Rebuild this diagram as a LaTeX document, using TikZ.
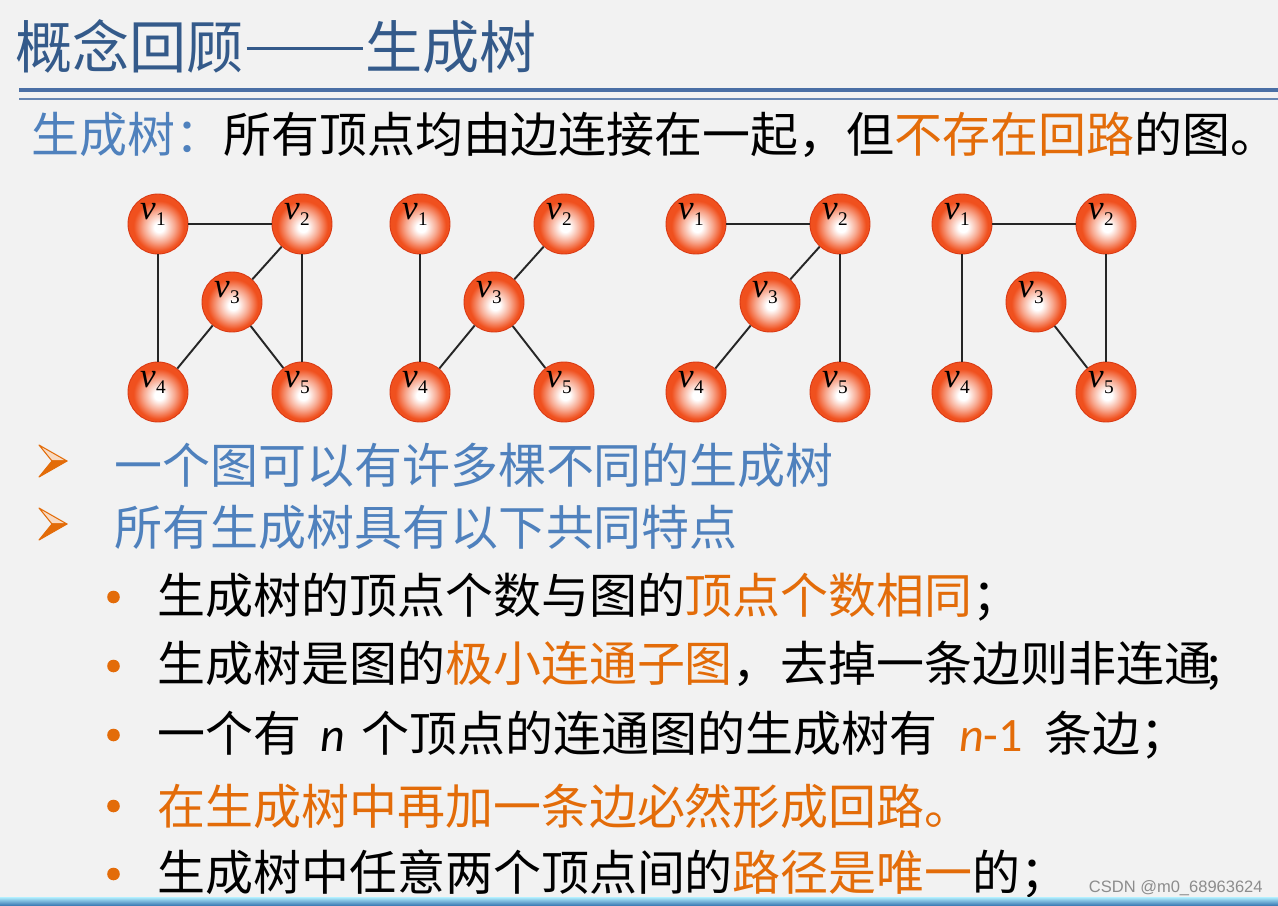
\documentclass[tikz,border=0pt]{standalone}
\usepackage{fontspec}
\newfontfamily\cjk{Noto Sans CJK SC}
\newfontfamily\lat{Carlito}
\newfontfamily\wm{Liberation Sans}
\newfontfamily\lser{Liberation Serif}
\definecolor{bgc}{HTML}{F2F2F2}
\definecolor{titleblue}{HTML}{345A8A}
\definecolor{blueB}{HTML}{4F81BD}
\definecolor{orangeA}{HTML}{E36C09}
\definecolor{nodeor}{HTML}{F0501E}
\definecolor{nodeedge}{HTML}{D93A14}
\definecolor{lineblue}{HTML}{4A6FA5}
\pgfdeclareradialshading{ballsh}{\pgfpoint{1bp}{-3bp}}{color(0bp)=(white); color(4bp)=(white); color(13bp)=(nodeor!50!white); color(21bp)=(nodeor); color(50bp)=(nodeor)}
\newcommand{\vlab}[1]{{\lser\fontsize{20}{20}\selectfont\itshape v}\kern0.03em\raisebox{-0.3em}{\lser\fontsize{11}{11}\selectfont #1}}
\tikzset{
  vtx/.style={circle, minimum size=1.2cm, inner sep=0pt, draw=nodeedge, line width=0.5pt, shading=ballsh},
  vl/.style={label={[xshift=-0.1cm, yshift=0.19cm, inner sep=0pt]center:\vlab{#1}}},
  edge/.style={line width=1.1pt, draw=black!85},
  txt/.style={anchor=west, inner sep=0pt, font=\cjk\fontsize{27.3}{30}\selectfont},
}
\begin{document}
\begin{tikzpicture}[x=0.02cm, y=-0.02cm]
\fill[bgc] (0,0) rectangle (1278,906);
\useasboundingbox (0,0) rectangle (1278,906);
% title
\node[anchor=west, inner sep=0pt, font=\cjk\fontsize{32.5}{34}\selectfont, text=titleblue] (title) at (15,47) {概念回顾\hspace{0.05em}\rule[0.34em]{66pt}{1.7pt}\hspace{0.05em}生成树};
\coordinate (la) at (19,90); \coordinate (lb) at (1278,90);
\coordinate (lc) at (19,99); \coordinate (ld) at (1278,99);
\draw[lineblue, line width=1.8pt] (la) -- (lb);
\draw[lineblue!85, line width=0.9pt] (lc) -- (ld);
% definition
\node[anchor=west, inner sep=0pt, font=\cjk\fontsize{27.3}{30}\selectfont] (def) at (31,135) {\textcolor{blueB}{生成树：}所有顶点均由边连接在一起，但\textcolor{orangeA}{不存在回路}的图。};
% graphs
\foreach \g/\ox in {1/0,2/262,3/538,4/804}{
  \node[vtx, vl=1] (g\g v1) at (158+\ox,224) {};
  \node[vtx, vl=2] (g\g v2) at (302+\ox,224) {};
  \node[vtx, vl=3] (g\g v3) at (232+\ox,302) {};
  \node[vtx, vl=4] (g\g v4) at (158+\ox,392) {};
  \node[vtx, vl=5] (g\g v5) at (302+\ox,392) {};
}
\draw[edge] (g1v1) -- (g1v2); \draw[edge] (g1v1) -- (g1v4); \draw[edge] (g1v2) -- (g1v3);
\draw[edge] (g1v2) -- (g1v5); \draw[edge] (g1v3) -- (g1v4); \draw[edge] (g1v3) -- (g1v5);
\draw[edge] (g2v1) -- (g2v4); \draw[edge] (g2v4) -- (g2v3); \draw[edge] (g2v3) -- (g2v2); \draw[edge] (g2v3) -- (g2v5);
\draw[edge] (g3v1) -- (g3v2); \draw[edge] (g3v2) -- (g3v3); \draw[edge] (g3v3) -- (g3v4); \draw[edge] (g3v2) -- (g3v5);
\draw[edge] (g4v1) -- (g4v2); \draw[edge] (g4v1) -- (g4v4); \draw[edge] (g4v2) -- (g4v5); \draw[edge] (g4v3) -- (g4v5);
% arrow bullets
\foreach \yy in {461,524}{
  \fill[white!75!orangeA, draw=orangeA, line width=0.6pt, line join=round] (39,\yy-16) -- (67,\yy) -- (52,\yy) -- cycle;
  \fill[orangeA, draw=orangeA, line width=0.6pt, line join=round] (52,\yy) -- (67,\yy) -- (39,\yy+16) -- cycle;
}
\node[txt, text=blueB] (b1) at (114,465) {一个图可以有许多棵不同的生成树};
\node[txt, text=blueB] (b2) at (114,527) {所有生成树具有以下共同特点};
% sub bullets
\foreach \yy in {597,666,735,806,874}{
  \fill[orangeA] (113.5,\yy) circle[radius=6.3];
}
\node[txt] (s1) at (157,597) {生成树的顶点个数与图的\textcolor{orangeA}{顶点个数相同}；};
\node[txt] (s2) at (157,666) {生成树是图的\textcolor{orangeA}{极小连通子图}，去掉一条边则非连通\hspace{-0.1em};};
\node[txt] (s3) at (157,735) {一个有\hspace{0.4em}{\lat\itshape n}\hspace{0.35em}个顶点的连通图的生成树有\hspace{0.45em}\textcolor{orangeA}{{\lat\itshape n}{\lat -1}}\hspace{0.45em}条边；};
\node[txt, text=orangeA] (s4) at (157,806) {在生成树中再加一条边必然形成回路。};
\node[txt] (s5) at (157,874) {生成树中任意两个顶点间的\textcolor{orangeA}{路径是唯一}的；};
% watermark
\node[anchor=east, inner sep=0pt, font=\wm\fontsize{9.4}{10}\selectfont, text=black!45] (wm) at (1263,888) {CSDN @m0\_68963624};
% bottom bar
\shade[top color=blue!20!cyan!30!white, bottom color=blue!50!cyan!60!black!80] (0,897) rectangle (1278,906);
\end{tikzpicture}
\end{document}
